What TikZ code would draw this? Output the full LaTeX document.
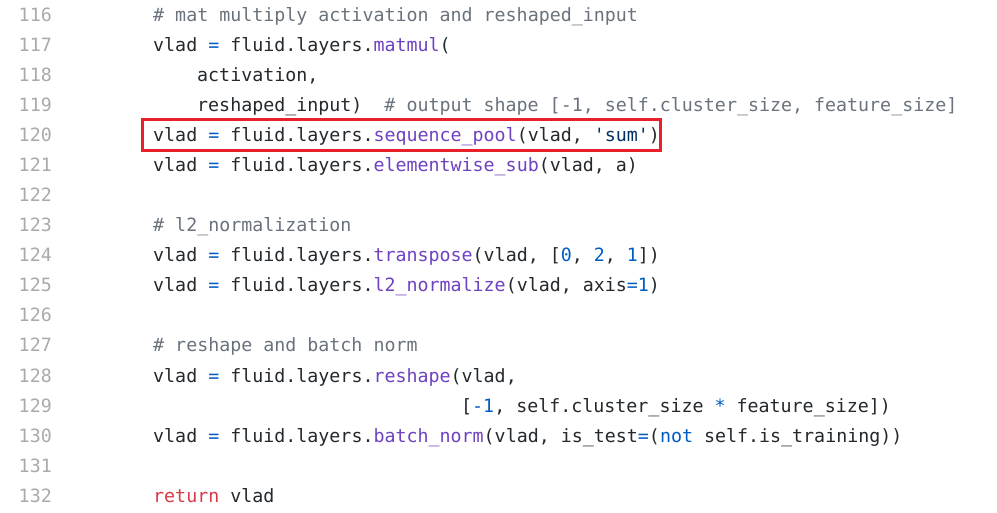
\documentclass[tikz,border=0pt]{standalone}
\usepackage{fontspec}
\newfontfamily\codefont{DejaVu Sans Mono}
\definecolor{cblue}{HTML}{005CC5}
\definecolor{cpurp}{HTML}{6F42C1}
\definecolor{cred}{HTML}{D73A49}
\definecolor{cstr}{HTML}{032F62}
\definecolor{ccom}{HTML}{6A737D}
\definecolor{cnum}{HTML}{AAAAAA}
\definecolor{ctxt}{HTML}{24292E}
\definecolor{boxred}{HTML}{E8202A}
\newcommand{\B}[1]{\textcolor{cblue}{#1}}
\newcommand{\F}[1]{\textcolor{cpurp}{#1}}
\newcommand{\R}[1]{\textcolor{cred}{#1}}
\newcommand{\Sx}[1]{\textcolor{cstr}{#1}}
\newcommand{\Cm}[1]{\textcolor{ccom}{#1}}
\begin{document}
\begin{tikzpicture}[x=1pt,y=-1pt,
  code/.style={anchor=base west,inner sep=0pt,font=\codefont\fontsize{18.3}{20}\selectfont,text=ctxt},
  lnum/.style={anchor=base east,inner sep=0pt,font=\codefont\fontsize{18.3}{20}\selectfont,text=cnum}]
\fill[white] (0,0) rectangle (997,513);
\useasboundingbox (0,0) rectangle (997,513);
\foreach \n [count=\i from 0] in {116,...,132}{
  \node[lnum] (n\n) at (52,{22+30*\i}) {\n};
}
\def\X#1{153+11*#1}
\node[code] (l116) at ({\X0},22) {\Cm{\# mat multiply activation and reshaped\_input}};
\node[code] (l117) at ({\X0},52) {vlad \B{=} fluid.layers.\F{matmul}(};
\node[code] (l118) at ({\X4},82) {activation,};
\node[code] (l119) at ({\X4},112) {reshaped\_input)\ \ \Cm{\# output shape [-1, self.cluster\_size, feature\_size]}};
\node[code] (l120) at ({\X0},142) {vlad \B{=} fluid.layers.\F{sequence\_pool}(vlad, \Sx{'sum'})};
\node[code] (l121) at ({\X0},172) {vlad \B{=} fluid.layers.\F{elementwise\_sub}(vlad, a)};
\node[code] (l123) at ({\X0},232) {\Cm{\# l2\_normalization}};
\node[code] (l124) at ({\X0},262) {vlad \B{=} fluid.layers.\F{transpose}(vlad, [\B{0}, \B{2}, \B{1}])};
\node[code] (l125) at ({\X0},292) {vlad \B{=} fluid.layers.\F{l2\_normalize}(vlad, axis\B{=1})};
\node[code] (l127) at ({\X0},352) {\Cm{\# reshape and batch norm}};
\node[code] (l128) at ({\X0},382) {vlad \B{=} fluid.layers.\F{reshape}(vlad,};
\node[code] (l129) at ({\X{28}},412) {[\B{-1}, self.cluster\_size \B{*} feature\_size])};
\node[code] (l130) at ({\X0},442) {vlad \B{=} fluid.layers.\F{batch\_norm}(vlad, is\_test\B{=}(\B{not} self.is\_training))};
\node[code] (l132) at ({\X0},502) {\R{return} vlad};
\draw[boxred,line width=3pt] (142.5,120) rectangle (660.5,151);
\end{tikzpicture}
\end{document}
